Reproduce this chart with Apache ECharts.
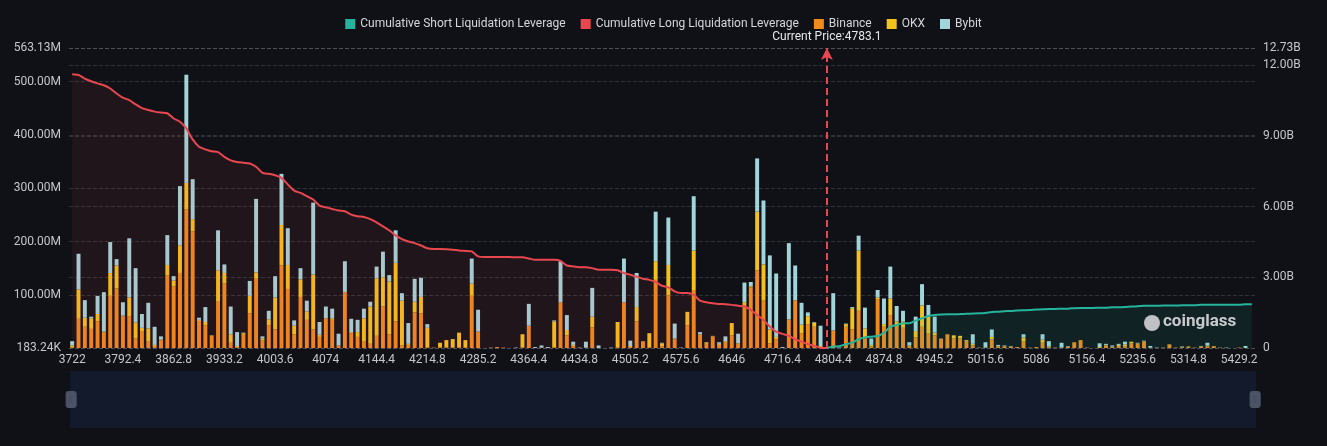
<!DOCTYPE html>
<html>
<head>
<meta charset="utf-8">
<script src="https://cdn.jsdelivr.net/npm/echarts@6/dist/echarts.min.js"></script>
<style>
html,body{margin:0;padding:0;background:#0f1117;}
#chart{width:1327px;height:446px;}
</style>
</head>
<body>
<div id="chart"></div>
<script>
// Price levels (x categories)
const prices = [
3722,3730.8,3739.6,3748.4,3757.2,3766,3774.8,3783.6,3792.4,3801.2,
3810,3818.8,3827.6,3836.4,3845.2,3854,3862.8,3871.6,3880.4,3889.2,
3898,3906.8,3915.6,3924.4,3933.2,3942,3950.8,3959.6,3968.4,3977.2,
3986,3994.8,4003.6,4012.4,4021.2,4030,4038.8,4047.6,4056.4,4065.2,
4074,4082.8,4091.6,4100.4,4109.2,4118,4126.8,4135.6,4144.4,4153.2,
4162,4170.8,4179.6,4188.4,4197.2,4206,4214.8,4223.6,4232.4,4241.2,
4250,4258.8,4267.6,4276.4,4285.2,4294,4302.8,4311.6,4320.4,4329.2,
4338,4355.6,4364.4,4373.2,4382,4390.8,4399.6,4408.4,4417.2,4426,
4434.8,4443.6,4452.4,4461.2,4470,4478.8,4487.6,4496.4,4505.2,4514,
4522.8,4531.6,4540.4,4549.2,4558,4566.8,4575.6,4584.4,4593.2,4602,
4610.8,4619.6,4628.4,4637.2,4646,4654.8,4663.6,4672.4,4681.2,4690,
4698.8,4707.6,4716.4,4725.2,4734,4742.8,4751.6,4760.4,4769.2,4783.1,
4804.4,4813.2,4822,4830.8,4839.6,4848.4,4857.2,4866,4874.8,4883.6,
4892.4,4901.2,4910,4918.8,4927.6,4936.4,4945.2,4954,4962.8,4971.6,
4980.4,4989.2,4998,5006.8,5015.6,5024.4,5033.2,5042,5050.8,5059.6,
5068.4,5077.2,5086,5094.8,5103.6,5112.4,5121.2,5130,5138.8,5147.6,
5156.4,5165.2,5174,5182.8,5191.6,5200.4,5218,5226.8,5235.6,5244.4,
5253.2,5262,5270.8,5279.6,5297.2,5306,5314.8,5323.6,5332.4,5350,
5358.8,5385.2,5394,5411.6,5429.2,5438,5446.8
];

// Liquidation leverage per exchange (millions USD)
const binance = [
1,55,40,36,50,29,98,112,60,60,
18,32,12,4,15,136,116,141,260,219,
51,43,23,87,121,10,1,25,65,130,
14,43,35,155,111,26,96,53,35,21,
55,53,4,105,28,21,12,8,23,78,
26,50,5,6,67,65,1,1,1,1,
1,1,1,98,31,0,1,2,1,0,
0,1,42,0,0,0,1,86,24,3,
0,0,39,0,0,0,2,86,2,50,
12,2,128,3,99,16,0,43,109,25,
8,22,6,10,24,8,81,114,146,89,
9,16,0,54,89,28,45,40,2,0,
33,0,40,35,70,18,3,92,40,62,
40,38,4,20,40,27,24,18,26,18,
18,12,5,1,0,16,3,3,3,2,
12,1,2,10,2,1,0,3,11,15,
1,0,0,5,3,4,3,9,8,12,
0,0,1,6,1,1,2,1,2,3,
3,1,0,0,1,0,0
];
const okx = [
4,55,17,20,14,2,43,43,1,35,
30,6,25,2,1,20,11,52,50,23,
2,6,1,59,20,16,3,3,33,12,
4,11,60,76,45,16,33,16,103,4,
1,3,1,0,2,9,44,70,108,55,
99,110,84,2,20,31,37,0,9,14,
16,28,14,23,0,0,0,0,0,0,
0,25,0,0,1,0,49,0,10,3,
0,1,20,0,0,0,47,0,2,27,
1,26,35,6,57,2,0,25,74,1,
3,1,2,3,23,1,5,2,110,68,
26,5,0,0,1,16,15,8,2,0,
0,0,5,40,113,19,3,3,5,31,
10,12,1,12,40,32,5,0,0,6,
5,3,3,0,1,5,1,1,0,0,
8,0,0,6,1,0,1,0,0,0,
0,0,2,1,0,2,4,3,1,1,
1,0,0,1,0,1,1,0,1,2,
1,0,0,0,0,0,0
];
const bybit = [
8,67,33,3,34,74,58,12,25,111,
102,26,48,34,6,56,8,111,203,75,
4,28,0,75,16,52,26,1,28,138,
4,16,40,96,69,10,21,20,135,24,
22,18,22,58,25,23,18,9,22,48,
12,61,14,39,43,36,7,0,0,0,
0,0,0,47,41,0,0,0,0,0,
1,0,41,2,4,2,2,77,28,6,
1,11,54,5,0,1,0,82,10,64,
0,0,93,1,89,28,1,0,102,4,
0,0,3,9,0,18,37,8,100,120,
139,119,2,143,65,41,7,1,38,0,
70,1,1,2,28,39,12,14,48,60,
29,20,6,27,40,22,30,0,0,0,
0,0,18,0,10,14,2,1,1,0,
6,0,0,10,10,0,9,1,0,0,
0,0,7,2,2,2,5,0,1,1,
3,1,0,0,0,1,0,0,1,5,
0,0,1,0,0,4,0
];

// Cumulative long leverage (billions), from the first price level up to current price
const cumLong = [
11.62,11.59,11.43,11.32,11.23,11.15,11.01,10.8,10.62,10.52,
10.34,10.18,10.1,10.03,9.99,9.96,9.74,9.6,9.32,8.85,
8.54,8.43,8.35,8.31,8.11,7.96,7.89,7.86,7.83,7.69,
7.43,7.39,7.33,7.22,6.94,6.68,6.58,6.44,6.3,6.04,
5.97,5.9,5.83,5.8,5.66,5.59,5.56,5.47,5.33,5.16,
4.99,4.78,4.62,4.52,4.45,4.35,4.23,4.2,4.2,4.19,
4.17,4.14,4.12,4.1,3.89,3.86,3.86,3.86,3.86,3.86,
3.85,3.85,3.8,3.74,3.74,3.74,3.74,3.7,3.5,3.46,
3.43,3.43,3.39,3.32,3.32,3.32,3.3,3.18,3.11,3.03,
2.94,2.89,2.8,2.64,2.57,2.4,2.33,2.33,2.26,2.01,
1.94,1.9,1.87,1.86,1.83,1.79,1.76,1.62,1.4,1.19,
0.91,0.69,0.6,0.52,0.37,0.27,0.17,0.09,0.01,0
];
// Cumulative short leverage (billions), from current price to the last price level
const cumShort = [
0,0.06,0.08,0.16,0.23,0.37,0.45,0.48,0.51,0.65,
0.91,0.98,1.05,1.05,1.16,1.26,1.36,1.4,1.42,1.43,
1.43,1.44,1.45,1.46,1.47,1.49,1.53,1.54,1.56,1.57,
1.59,1.6,1.61,1.63,1.64,1.66,1.66,1.67,1.67,1.69,
1.7,1.7,1.7,1.71,1.71,1.73,1.73,1.74,1.76,1.77,
1.79,1.79,1.79,1.8,1.8,1.8,1.81,1.81,1.81,1.83,
1.83,1.83,1.84,1.84,1.84,1.84,1.86,1.86
];

const currentPrice = 4783.1;
const leftAxisMin = 0.18324;   // M
const leftAxisMax = 563.13;    // M
const rightAxisMax = 12.73;    // B

const categories = prices.map(String);
const curIdx = categories.indexOf(String(currentPrice));
const longData = categories.map((c, i) => i < cumLong.length ? cumLong[i] : null);
const shortData = categories.map((c, i) => (i >= curIdx && i - curIdx < cumShort.length) ? cumShort[i - curIdx] : null);

const FONT = 'Roboto';
const labelColor = '#c4c6cc';
const gridLine = { lineStyle: { color: 'rgba(255,255,255,0.14)', type: 'dashed', width: 1 } };

const chart = echarts.init(document.getElementById('chart'), null, { renderer: 'canvas' });
chart.setOption({
  backgroundColor: '#0f1117',
  animation: false,
  textStyle: { fontFamily: FONT },
  legend: {
    top: 13, left: 'center', itemWidth: 10, itemHeight: 10, itemGap: 15, icon: 'rect',
    textStyle: { color: '#d6d7db', fontSize: 12, fontFamily: FONT },
    data: ['Cumulative Short Liquidation Leverage', 'Cumulative Long Liquidation Leverage', 'Binance', 'OKX', 'Bybit']
  },
  grid: { left: 69, right: 72, top: 48, bottom: 98 },
  xAxis: {
    type: 'category', data: categories, boundaryGap: true,
    axisLine: { show: false }, axisTick: { show: false }, splitLine: { show: false },
    axisLabel: { interval: 7, color: labelColor, fontSize: 12, margin: 6, fontFamily: FONT }
  },
  yAxis: [
    {
      type: 'value', position: 'left', min: leftAxisMin, max: leftAxisMax,
      axisLine: { show: false }, axisTick: { show: false }, splitLine: gridLine,
      axisLabel: { color: labelColor, fontSize: 12, fontFamily: FONT,
        formatter: v => v < 1 ? (v * 1000).toFixed(2) + 'K' : v.toFixed(2) + 'M' }
    },
    {
      type: 'value', position: 'right', min: 0, max: rightAxisMax,
      axisLine: { show: false }, axisTick: { show: false }, splitLine: gridLine,
      axisLabel: { color: labelColor, fontSize: 12, fontFamily: FONT,
        formatter: v => v === 0 ? '0' : v.toFixed(2) + 'B' }
    }
  ],
  dataZoom: [{
    type: 'slider', xAxisIndex: 0, start: 0, end: 100,
    left: 69, right: 72, top: 371, height: 57,
    backgroundColor: '#131a2b', borderColor: 'transparent',
    fillerColor: 'rgba(19,26,43,0.3)',
    showDetail: false, showDataShadow: false, brushSelect: false, moveHandleSize: 0,
    dataBackground: { lineStyle: { opacity: 0 }, areaStyle: { opacity: 0 } },
    handleIcon: 'path://M2,0H8A2,2,0,0,1,10,2V14A2,2,0,0,1,8,16H2A2,2,0,0,1,0,14V2A2,2,0,0,1,2,0Z M3.6,5V11H4.4V5Z M5.6,5V11H6.4V5Z',
    handleSize: 16,
    handleStyle: { color: '#4c5366', borderColor: '#4c5366' }
  }],
  graphic: [
    { type: 'circle', shape: { cx: 1152, cy: 323, r: 8 }, style: { fill: '#bfc1c4' }, silent: true, z: 20 },
    { type: 'text', left: 1163, top: 313, silent: true, z: 20,
      style: { text: 'coinglass', fill: '#c9cacd', font: 'bold 17px Roboto' } }
  ],
  series: [
    {
      name: 'Cumulative Short Liquidation Leverage', type: 'line', yAxisIndex: 1,
      data: shortData, smooth: 0.2, symbol: 'none', z: 4,
      lineStyle: { color: '#26b39c', width: 2 }, itemStyle: { color: '#26b39c' },
      areaStyle: { color: 'rgba(38,179,156,0.15)' }
    },
    {
      name: 'Cumulative Long Liquidation Leverage', type: 'line', yAxisIndex: 1,
      data: longData, smooth: 0.2, symbol: 'none', z: 4,
      lineStyle: { color: '#e8474f', width: 2 }, itemStyle: { color: '#e8474f' },
      areaStyle: { color: 'rgba(232,71,79,0.12)' }
    },
    {
      name: 'Binance', type: 'bar', stack: 'liq', yAxisIndex: 0, data: binance, barWidth: '62%',
      itemStyle: { color: '#ef8a1d' },
      markLine: {
        silent: true, symbol: ['none', 'arrow'], symbolSize: [9, 12],
        lineStyle: { color: '#e8474f', type: [7, 4], width: 2 },
        label: { show: true, position: 'end', formatter: 'Current Price:' + currentPrice,
          color: '#e8e8ea', fontSize: 12, fontFamily: FONT },
        data: [{ xAxis: String(currentPrice) }]
      }
    },
    {
      name: 'OKX', type: 'bar', stack: 'liq', yAxisIndex: 0, data: okx, barWidth: '62%',
      itemStyle: { color: '#f5c11c' }
    },
    {
      name: 'Bybit', type: 'bar', stack: 'liq', yAxisIndex: 0, data: bybit, barWidth: '62%',
      itemStyle: { color: '#a2d5da' }
    }
  ]
});
</script>
</body>
</html>
